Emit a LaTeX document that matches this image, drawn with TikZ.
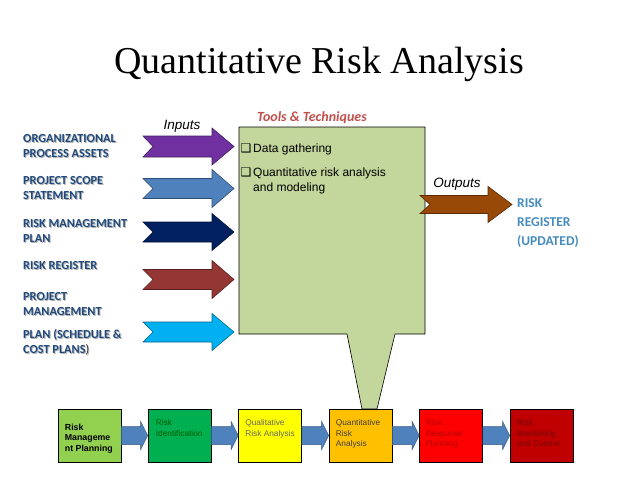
\documentclass[tikz,border=0pt]{standalone}
\usepackage{fontspec}
\setmainfont{Liberation Serif}
\setsansfont{Liberation Sans}
\newfontfamily\carlito{Carlito}
\newfontfamily\dejavu{DejaVu Sans}
\usetikzlibrary{calc}
\definecolor{cPurple}{HTML}{7030A0}
\definecolor{cBlue}{HTML}{4F81BD}
\definecolor{cNavy}{HTML}{002060}
\definecolor{cDRed}{HTML}{943634}
\definecolor{cCyan}{HTML}{00B0F0}
\definecolor{cBrown}{HTML}{984807}
\definecolor{cCallout}{HTML}{C3D69B}
\definecolor{cLbl}{HTML}{1F497D}
\definecolor{cOut}{HTML}{468CBE}
\definecolor{cTools}{HTML}{C0504D}
\definecolor{bLGreen}{HTML}{92D050}
\definecolor{bGreen}{HTML}{00B050}
\definecolor{bYellow}{HTML}{FFFF00}
\definecolor{bOrange}{HTML}{FFC000}
\definecolor{bRed}{HTML}{FF0000}
\definecolor{bDRed}{HTML}{C00000}
\colorlet{parenCol}{black!85}
% #1 tail x, #2 notch depth, #3 head start x, #4 tip x, #5 centre y, #6 shaft half, #7 head half, #8 colour
\newcommand{\notcharrow}[8]{%
  \draw[fill=#8, draw=#8!60!black, line width=0.6pt, line join=miter]
    ({#1},{#5-#6}) -- ({#3},{#5-#6}) -- ({#3},{#5-#7}) -- ({#4},{#5})
    -- ({#3},{#5+#7}) -- ({#3},{#5+#6}) -- ({#1},{#5+#6}) -- ({#1+#2},{#5}) -- cycle;}
\newcommand{\flowarr}[2]{%
  \draw[fill=cBlue, draw=cBlue!70!black, line width=0.5pt]
    let \p1=(#1.east), \p2=(#2.west) in
    (\x1,{\y1+9pt}) -- ({\x2-7pt},{\y1+9pt}) -- ({\x2-7pt},{\y1+14pt}) -- (\x2,\y1)
    -- ({\x2-7pt},{\y1-14pt}) -- ({\x2-7pt},{\y1-9pt}) -- (\x1,{\y1-9pt}) -- cycle;}
\newcommand{\closeparen}{{\mdseries\color{parenCol})}}
\tikzset{
  lbl/.style={font=\carlito\bfseries\fontsize{12.3}{14.5}\selectfont, text=cLbl,
    align=left, anchor=west, inner sep=0pt},
  lblsh/.style={lbl, text=black!30},
  bul/.style={font=\dejavu\fontsize{12}{12}\selectfont, anchor=base west, inner sep=0pt},
  bultxt/.style={font=\sffamily\fontsize{12}{15}\selectfont, anchor=base west, inner sep=0pt},
  stagebox/.style={draw=black, line width=0.6pt, minimum width=63pt, minimum height=53pt, inner sep=0pt},
  stagetxt/.style={font=\sffamily\fontsize{8.3}{10.5}\selectfont, align=left, anchor=north west, inner sep=0pt},
  italab/.style={font=\sffamily\itshape\fontsize{13.5}{15}\selectfont, anchor=base, inner sep=0pt}
}
\begin{document}
\begin{tikzpicture}[x=1pt, y=-1pt]
\useasboundingbox (0,0) rectangle (638,479);
\fill[white] (0,0) rectangle (638,479);

% title
\node[font=\fontsize{38}{44}\selectfont, anchor=base, inner sep=0pt] (title) at (319,73) {Quantitative Risk Analysis};

% callout box
\draw[fill=cCallout, draw=black, line width=0.6pt]
  (239,127) -- (425,127) -- (425,334) -- (395,334) -- (377,409) -- (362,409) -- (347,334) -- (239,334) -- cycle;
\node[font=\carlito\bfseries\itshape\fontsize{14}{16}\selectfont, text=cTools, anchor=base, inner sep=0pt] (tools) at (312,121) {Tools \& Techniques};
\node[bul] (q1) at (240.5,152) {❑};
\node[bultxt] (d1) at (253,152) {Data gathering};
\node[bul] (q2) at (240.5,176) {❑};
\node[bultxt] (d2) at (253,176) {Quantitative risk analysis};
\node[bultxt] (d3) at (253,191) {and modeling};

% input arrows
\notcharrow{143}{10}{212}{234}{146.5}{10.5}{18.5}{cPurple}
\notcharrow{143}{10}{212}{234}{188.5}{10}{19}{cBlue}
\notcharrow{143}{10}{212}{234}{232}{10}{18.5}{cNavy}
\notcharrow{143}{10}{212}{234}{279.5}{10}{19}{cDRed}
\notcharrow{143}{10}{212}{234}{332}{10}{18.5}{cCyan}
\node[italab] (inputs) at (182,129) {Inputs};

% output arrow
\notcharrow{420}{10}{488}{512}{204.5}{9}{18}{cBrown}
\node[italab] (outputs) at (457,187) {Outputs};
\node[font=\carlito\bfseries\fontsize{13.5}{19}\selectfont, text=cOut, align=left, anchor=west, inner sep=0pt] (outl) at (517,223) {RISK\\REGISTER\\(UPDATED)};

% input labels (shadow + text)
\node[lblsh] (s1) at (24,147) {ORGANIZATIONAL\\PROCESS ASSETS};
\node[lbl] (l1) at (23,146) {ORGANIZATIONAL\\PROCESS ASSETS};
\node[lblsh] (s2) at (24,189) {PROJECT SCOPE\\STATEMENT};
\node[lbl] (l2) at (23,188) {PROJECT SCOPE\\STATEMENT};
\node[lblsh] (s3) at (24,232) {RISK MANAGEMENT\\PLAN};
\node[lbl] (l3) at (23,231) {RISK MANAGEMENT\\PLAN};
\node[lblsh] (s4) at (24,267) {RISK REGISTER};
\node[lbl] (l4) at (23,266) {RISK REGISTER};
\begin{scope}
\colorlet{parenCol}{black!30}
\node[lblsh] (s5) at (24,325) {PROJECT\\MANAGEMENT\\[9pt]PLAN (SCHEDULE \&\\COST PLANS\closeparen};
\end{scope}
\node[lbl] (l5) at (23,324) {PROJECT\\MANAGEMENT\\[9pt]PLAN (SCHEDULE \&\\COST PLANS\closeparen};

% process stages
\node[stagebox, fill=bLGreen] (b1) at (89.5,435.5) {};
\node[stagebox, fill=bGreen] (b2) at (179.5,435.5) {};
\node[stagebox, fill=bYellow] (b3) at (270,435.5) {};
\node[stagebox, fill=bOrange] (b4) at (360.5,435.5) {};
\node[stagebox, fill=bRed] (b5) at (451,435.5) {};
\node[stagebox, fill=bDRed] (b6) at (541.5,435.5) {};
\flowarr{b1}{b2}
\flowarr{b2}{b3}
\flowarr{b3}{b4}
\flowarr{b4}{b5}
\flowarr{b5}{b6}
\node[font=\sffamily\bfseries\fontsize{8.8}{10.7}\selectfont, align=left, anchor=west, inner sep=0pt] (t1) at ($(b1.west)+(7,3)$) {Risk\\Manageme\\nt Planning};
\node[stagetxt, text=green!35!black] (t2) at ($(b2.north west)+(8,11)$) {Risk\\Identification};
\node[stagetxt, text=black!60] (t3) at ($(b3.north west)+(7,11)$) {Qualitative\\Risk Analysis};
\node[stagetxt, text=black!75] (t4) at ($(b4.north west)+(7,11)$) {Quantitative\\Risk\\Analysis};
\node[stagetxt, text=red!70!black] (t5) at ($(b5.north west)+(6,11)$) {Risk\\Response\\Planning};
\node[stagetxt, text=red!45!black] (t6) at ($(b6.north west)+(7,11)$) {Risk\\Monitoring\\and Control};
\end{tikzpicture}
\end{document}
